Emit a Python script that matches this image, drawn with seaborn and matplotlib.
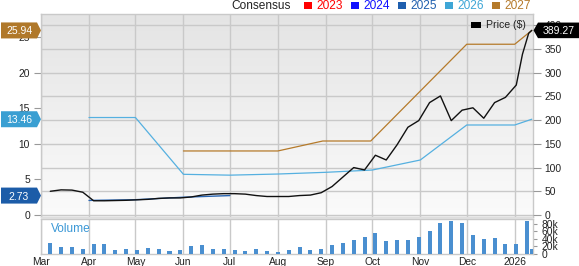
import numpy as np
import pandas as pd
import matplotlib
matplotlib.use("Agg")
import matplotlib.pyplot as plt
import matplotlib.patches as mpatches
import matplotlib.transforms as mtransforms
from matplotlib.colors import LinearSegmentedColormap
import seaborn as sns

# ---------------- data ----------------
price_dates = ["2025-03-07", "2025-03-14", "2025-03-21", "2025-03-28", "2025-04-04", "2025-04-11",
               "2025-04-18", "2025-04-25", "2025-05-02", "2025-05-09", "2025-05-16", "2025-05-23",
               "2025-05-30", "2025-06-06", "2025-06-13", "2025-06-20", "2025-06-27", "2025-07-04",
               "2025-07-11", "2025-07-18", "2025-07-25", "2025-08-01", "2025-08-08", "2025-08-15",
               "2025-08-22", "2025-08-29", "2025-09-05", "2025-09-12", "2025-09-19", "2025-09-26",
               "2025-10-03", "2025-10-10", "2025-10-17", "2025-10-24", "2025-10-31", "2025-11-07",
               "2025-11-14", "2025-11-21", "2025-11-28", "2025-12-05", "2025-12-12", "2025-12-19",
               "2025-12-26", "2026-01-02", "2026-01-06", "2026-01-10", "2026-01-12"]
price_values = [50, 53, 52.5, 48, 30, 30, 30.5, 31, 32, 33, 35, 36, 36, 38, 42, 44, 45, 45, 44, 41,
                39, 39, 39, 41, 42, 47, 60, 80, 100, 95, 126, 116, 148, 185, 199, 237, 251, 199,
                221, 226, 204, 237, 248, 274, 339, 383, 389.27]

est2025_dates = ["2025-04-01", "2025-05-01", "2025-06-01", "2025-07-01"]
est2025_values = [2.05, 2.15, 2.5, 2.73]

est2026_dates = ["2025-04-01", "2025-05-01", "2025-06-01", "2025-07-01", "2025-08-01", "2025-09-01",
                 "2025-10-01", "2025-11-01", "2025-12-01", "2026-01-01", "2026-01-12"]
est2026_values = [13.7, 13.7, 5.72, 5.6, 5.76, 6.0, 6.32, 7.73, 12.65, 12.65, 13.46]

est2027_dates = ["2025-06-01", "2025-08-01", "2025-08-30", "2025-09-30", "2025-12-01", "2026-01-01",
                 "2026-01-12"]
est2027_values = [9.0, 9.0, 10.4, 10.4, 24.0, 24.0, 25.94]

volume_dates = ["2025-03-07", "2025-03-14", "2025-03-21", "2025-03-28", "2025-04-04", "2025-04-11",
                "2025-04-18", "2025-04-25", "2025-05-02", "2025-05-09", "2025-05-16", "2025-05-23",
                "2025-05-30", "2025-06-06", "2025-06-13", "2025-06-20", "2025-06-27", "2025-07-04",
                "2025-07-11", "2025-07-18", "2025-07-25", "2025-08-01", "2025-08-08", "2025-08-15",
                "2025-08-22", "2025-08-29", "2025-09-05", "2025-09-12", "2025-09-19", "2025-09-26",
                "2025-10-03", "2025-10-10", "2025-10-17", "2025-10-24", "2025-10-31", "2025-11-07",
                "2025-11-14", "2025-11-21", "2025-11-28", "2025-12-05", "2025-12-12", "2025-12-19",
                "2025-12-26", "2026-01-02", "2026-01-09", "2026-01-12"]
volume_k = [28, 19, 18, 14, 26, 26.5, 10.6, 12.4, 9.8, 15, 13, 8.7, 9.8, 22, 24, 13, 13, 10.6, 8.8,
            14, 8, 6, 9.8, 19.4, 9.8, 13, 23, 28, 37, 45, 55, 35, 38, 37, 44, 61, 81, 87.5, 83, 50,
            40.6, 42.4, 25.6, 27.4, 87.5, 14]

month_ticks = ["2025-03-01", "2025-04-01", "2025-05-01", "2025-06-01", "2025-07-01", "2025-08-01",
               "2025-09-01", "2025-10-01", "2025-11-01", "2025-12-01", "2026-01-01"]
month_labels = ["Mar", "Apr", "May", "Jun", "Jul", "Aug", "Sep", "Oct", "Nov", "Dec", "2026"]

eps_ticks = [0, 5, 10, 15, 20, 25]
price_ticks = [0, 50, 100, 150, 200, 250, 300, 350, 400]
vol_ticks = [0, 20, 40, 60, 80]
vol_tick_labels = ["0", "20k", "40k", "60k", "80k"]

legend_years = ["2023", "2024", "2025", "2026", "2027"]
legend_colors = ["#ff0000", "#1010ff", "#1f5fae", "#3ea6d6", "#b57a2a"]

# ---------------- style ----------------
sns.set_theme(style="white")
plt.rcParams["font.family"] = ["Liberation Sans", "DejaVu Sans"]

W, H = 579, 266
fig = plt.figure(figsize=(W / 100, H / 100), dpi=100)
fig.patch.set_facecolor("white")

X0, X1 = 41, 533.3
ax = fig.add_axes([X0 / W, (H - 217) / H, (X1 - X0) / W, (217 - 14) / H])
axv = fig.add_axes([X0 / W, (H - 254) / H, (X1 - X0) / W, (254 - 219) / H], sharex=ax)
ax2 = ax.twinx()

GRID = "#c9c9c9"
TXT = "#222222"

# gradient background
grad = np.linspace(0, 1, 256).reshape(-1, 1)
cmap_bg = LinearSegmentedColormap.from_list("bg", ["#e4e4e4", "#fbfbfb"])
ax.imshow(grad, cmap=cmap_bg, extent=[0, 1, 0, 1], transform=ax.transAxes,
          aspect="auto", zorder=0, origin="upper")

# frames
pd_price = pd.DataFrame({"date": pd.to_datetime(price_dates), "price": price_values})
d25 = pd.DataFrame({"date": pd.to_datetime(est2025_dates), "eps": est2025_values})
d26 = pd.DataFrame({"date": pd.to_datetime(est2026_dates), "eps": est2026_values})
d27 = pd.DataFrame({"date": pd.to_datetime(est2027_dates), "eps": est2027_values})
dvol = pd.DataFrame({"date": pd.to_datetime(volume_dates), "vol": np.array(volume_k) * 1000})

EPS_MAX = 28.25
EPS_MIN = -0.281
ax.set_ylim(EPS_MIN, EPS_MAX)
ax2.set_ylim(EPS_MIN * 15, EPS_MAX * 15)

# horizontal gridlines at price ticks
for v in price_ticks:
    ax.axhline(v / 15.0, color=GRID, lw=1.0, zorder=1)

sns.lineplot(data=d27, x="date", y="eps", ax=ax, color=legend_colors[4], lw=0.9, zorder=3)
sns.lineplot(data=d26, x="date", y="eps", ax=ax, color="#55b0e0", lw=0.9, zorder=3)
sns.lineplot(data=d25, x="date", y="eps", ax=ax, color="#2a66b3", lw=1.0, zorder=3)
sns.lineplot(data=pd_price, x="date", y="price", ax=ax2, color="#111111", lw=1.0, zorder=4)

ax2.patch.set_visible(False)

# volume bars
axv.bar(dvol["date"], dvol["vol"], width=2.6, color="#4a8fd0", zorder=3, lw=0)
axv.set_ylim(0, 92700)

xmin = pd.Timestamp("2025-03-01")
xmax = pd.Timestamp("2026-01-13")
ax.set_xlim(xmin, xmax)

mt = pd.to_datetime(month_ticks)
axv.set_xticks(mt)
axv.set_xticklabels(month_labels)
for a in (ax, axv):
    a.grid(axis="x", color=GRID, lw=1.0)
    a.set_axisbelow(True)
    a.set_xlabel("")
    a.set_ylabel("")
ax2.set_ylabel("")
ax2.set_xlabel("")
ax.tick_params(axis="x", labelbottom=False, length=0)
axv.tick_params(axis="x", length=0, labelsize=7.4, labelcolor=TXT, pad=2.5)

# left axis ticks
ax.set_yticks(eps_ticks)
ax.set_yticklabels([str(t) for t in eps_ticks])
ax.tick_params(axis="y", direction="out", length=5, width=0.8, color="#999999",
               labelsize=7.4, labelcolor=TXT, pad=3, left=True)
# right axis ticks
ax2.set_yticks(price_ticks)
ax2.set_yticklabels([str(t) for t in price_ticks])
ax2.tick_params(axis="y", direction="out", length=6, width=0.8, color="#999999",
                labelsize=7.4, labelcolor=TXT, pad=2, right=True)
# volume ticks
axv.yaxis.tick_right()
axv.set_yticks([v * 1000 for v in vol_ticks])
axv.set_yticklabels(vol_tick_labels)
axv.tick_params(axis="y", direction="out", length=3, width=0.8, color="#999999",
                labelsize=7.4, labelcolor=TXT, pad=3, right=True, left=False)

for a in (ax, axv, ax2):
    for s in a.spines.values():
        s.set_color(GRID)
        s.set_linewidth(1.0)
for s in ax2.spines.values():
    s.set_visible(False)

# separator band
fig.add_artist(mpatches.Rectangle((X0 / W, (H - 219) / H), (X1 - X0) / W, 2 / H,
                                  transform=fig.transFigure, color="#dedede", lw=0))

# volume label
axv.text(10 / (X1 - X0), 0.7, "Volume", transform=axv.transAxes, color="#3b98d6",
         fontsize=8.6, ha="left", va="center")

# header legend
fig.text(231 / W, 1 - 5.8 / H, "Consensus", fontsize=8.6, color=TXT, ha="left", va="center")
for i, (yr, col) in enumerate(zip(legend_years, legend_colors)):
    sx = 304 + 47 * i
    fig.add_artist(mpatches.Rectangle((sx / W, 1 - 9.2 / H), 7.5 / W, 7 / H,
                                      transform=fig.transFigure, color=col, lw=0))
    fig.text((sx + 12.5) / W, 1 - 5.8 / H, yr, fontsize=8.6, color=col, ha="left", va="center")

# price legend inside plot
fig.add_artist(mpatches.Rectangle((470.5 / W, 1 - 27.5 / H), 10 / W, 5 / H,
                                  transform=fig.transFigure, color="black", lw=0))
fig.text(485.5 / W, 1 - 25.5 / H, "Price ($)", fontsize=7.6, color=TXT, ha="left", va="center")

# value tags
fig.canvas.draw()


def tag_left(axis, value, text, color):
    y = axis.transData.transform((0, value))[1]
    hh = 8
    verts = [(1, y - hh), (37, y - hh), (41, y), (37, y + hh), (1, y + hh)]
    fig.add_artist(mpatches.Polygon(verts, closed=True, transform=mtransforms.IdentityTransform(),
                                    color=color, lw=0, zorder=10))
    fig.text(19 / W, y / H, text, color="white", fontsize=7.5, ha="center",
             va="center_baseline", zorder=11)


def tag_right(axis, value, text, color):
    y = axis.transData.transform((0, value))[1]
    hh = 7.8
    verts = [(533.5, y), (538, y + hh), (579, y + hh), (579, y - hh), (538, y - hh)]
    fig.add_artist(mpatches.Polygon(verts, closed=True, transform=mtransforms.IdentityTransform(),
                                    color=color, lw=0, zorder=10))
    fig.text(558.5 / W, y / H, text, color="white", fontsize=7.5, ha="center",
             va="center_baseline", zorder=11)


tag_left(ax, est2027_values[-1], f"{est2027_values[-1]:.2f}", "#b0782a")
tag_left(ax, est2026_values[-1], f"{est2026_values[-1]:.2f}", "#3a9fd2")
tag_left(ax, est2025_values[-1], f"{est2025_values[-1]:.2f}", "#1c5ca8")
tag_right(ax2, price_values[-1], f"{price_values[-1]:.2f}", "#000000")

fig.savefig("out.png", dpi=100)
